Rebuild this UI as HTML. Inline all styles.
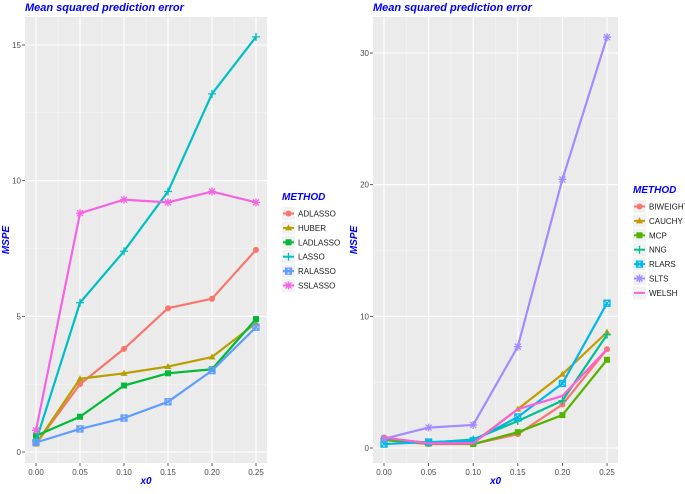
<!DOCTYPE html>
<html><head><meta charset="utf-8"><style>
body{margin:0;background:#fff;width:685px;height:489px;overflow:hidden}
svg{font-family:"Liberation Sans",sans-serif}
</style></head><body>
<svg id="s" width="685" height="489" xmlns="http://www.w3.org/2000/svg"></svg>
<script>
const xCats=[0,0.05,0.1,0.15,0.2,0.25];
const xTickLabels=["0.00","0.05","0.10","0.15","0.20","0.25"];
const leftNames=["ADLASSO","HUBER","LADLASSO","LASSO","RALASSO","SSLASSO"];
const leftAdlasso=[0.3,2.5,3.8,5.3,5.65,7.45];
const leftHuber=[0.3,2.7,2.9,3.15,3.5,4.75];
const leftLadlasso=[0.6,1.3,2.45,2.9,3.05,4.9];
const leftLasso=[0.4,5.5,7.4,9.6,13.2,15.3];
const leftRalasso=[0.35,0.85,1.25,1.85,3.0,4.6];
const leftSslasso=[0.8,8.8,9.3,9.2,9.6,9.2];
const leftYTicks=[0,5,10,15];
const rightNames=["BIWEIGHT","CAUCHY","MCP","NNG","RLARS","SLTS","WELSH"];
const rightBiweight=[0.8,0.3,0.3,1.05,3.3,7.5];
const rightCauchy=[0.6,0.3,0.4,2.95,5.6,8.8];
const rightMcp=[0.65,0.35,0.3,1.2,2.5,6.7];
const rightNng=[0.7,0.4,0.65,2.05,3.6,8.6];
const rightRlars=[0.3,0.45,0.55,2.35,4.9,11.0];
const rightSlts=[0.7,1.55,1.75,7.7,20.4,31.2];
const rightWelsh=[0.8,0.35,0.35,2.95,3.95,7.5];
const rightYTicks=[0,10,20,30];

const NS="http://www.w3.org/2000/svg";
const svg=document.getElementById('s');
function el(t,a,p){const e=document.createElementNS(NS,t);for(const k in a)e.setAttribute(k,a[k]);(p||svg).appendChild(e);return e;}

function marker(g,shape,x,y,c){
  let m=null;
  if(shape==='none'){return null;}
  if(shape==='circle'){m=el('circle',{cx:x,cy:y,r:3,fill:c},g);}
  else if(shape==='tri'){m=el('polygon',{points:`${x},${y-3.5} ${x-3.5},${y+2.5} ${x+3.5},${y+2.5}`,fill:c},g);}
  else if(shape==='square'){m=el('rect',{x:x-3,y:y-3,width:6,height:6,fill:c},g);}
  else if(shape==='plus'){m=el('path',{d:`M${x-4} ${y}H${x+4}M${x} ${y-4}V${y+4}`,stroke:c,'stroke-width':1.3,fill:'none'},g);}
  else if(shape==='sqx'){m=el('path',{d:`M${x-3} ${y-3}h6v6h-6zM${x-3} ${y-3}l6 6M${x+3} ${y-3}l-6 6`,stroke:c,'stroke-width':1.3,fill:'none'},g);}
  else {m=el('path',{d:`M${x-4} ${y}H${x+4}M${x} ${y-4}V${y+4}M${x-3} ${y-3}l6 6M${x+3} ${y-3}l-6 6`,stroke:c,'stroke-width':1.3,fill:'none'},g);}
  return m;
}

function panel(o){
  const {px0,px1,py0,py1,xa,xb,y0px,yScale,yTicks,yMinor,series,names,colors,shapes,legX,legY,id}=o;
  const sx=v=>xa+(xb-xa)*v/0.25;
  const sy=v=>y0px-v*yScale;
  const g=el('g',{});
  
  
  const bg=el('rect',{x:px0,y:py0,width:px1-px0,height:py1-py0,fill:'#ebebeb'},g);
  
  for(let i=0;i<xCats.length-1;i++){const xm=(sx(xCats[i])+sx(xCats[i+1]))/2;el('line',{x1:xm,x2:xm,y1:py0,y2:py1,stroke:'#f5f5f5','stroke-width':0.6},g);}
  yMinor.forEach(v=>{const y=sy(v);if(y>py0&&y<py1)el('line',{x1:px0,x2:px1,y1:y,y2:y,stroke:'#f5f5f5','stroke-width':0.6},g);});
  xCats.forEach((v,i)=>{const x=sx(v);el('line',{x1:x,x2:x,y1:py0,y2:py1,stroke:'#fff','stroke-width':1.1},g);
    el('line',{x1:x,x2:x,y1:py1,y2:py1+3,stroke:'#333','stroke-width':0.8},g);
    const t=el('text',{x:x,y:py1+12,'font-size':8,fill:'#4d4d4d','text-anchor':'middle'},g);t.textContent=xTickLabels[i];
    });
  yTicks.forEach(v=>{const y=sy(v);el('line',{x1:px0,x2:px1,y1:y,y2:y,stroke:'#fff','stroke-width':1.1},g);
    el('line',{x1:px0-3,x2:px0,y1:y,y2:y,stroke:'#333','stroke-width':0.8},g);
    const t=el('text',{x:px0-4,y:y+3,'font-size':8,fill:'#4d4d4d','text-anchor':'end'},g);t.textContent=v;
    });
  series.forEach((vals,si)=>{
    const c=colors[si];
    const sg=el('g',{},g);
    
    
    const pts=vals.map((v,i)=>sx(xCats[i])+','+sy(v)).join(' ');
    el('polyline',{points:pts,fill:'none',stroke:c,'stroke-width':2.2,'stroke-linejoin':'round'},sg);
    vals.forEach((v,i)=>{const m=marker(sg,shapes[si],sx(xCats[i]),sy(v),c);
      if(m){
      
      
      }});
  });
  const tt=el('text',{x:px0,y:11,'font-size':11,'font-weight':'bold','font-style':'italic',fill:'#0000ff'},g);
  tt.textContent='Mean squared prediction error';
  const xt=el('text',{x:(px0+px1)/2,y:484,'font-size':10,'font-weight':'bold','font-style':'italic',fill:'#0000ff','text-anchor':'middle'},g);
  xt.textContent='x0';
  const yt=el('text',{x:0,y:0,'font-size':10,'font-weight':'bold','font-style':'italic',fill:'#0000ff','text-anchor':'middle',transform:`translate(${px0-16},${(py0+py1)/2}) rotate(-90)`},g);
  yt.textContent='MSPE';
  const lg=el('g',{},g);
  
  const lt=el('text',{x:legX,y:legY,'font-size':10,'font-weight':'bold','font-style':'italic',fill:'#0000ff'},lg);lt.textContent='METHOD';
  names.forEach((n,i)=>{const y=legY+14+i*14.4;
    const e=el('g',{},lg);
    
    el('rect',{x:legX,y:y-7,width:13,height:13,fill:'#f2f2f2'},e);
    el('line',{x1:legX+1,x2:legX+12,y1:y-0.5,y2:y-0.5,stroke:colors[i],'stroke-width':2},e);
    marker(e,shapes[i],legX+6.5,y-0.5,colors[i]);
    const t=el('text',{x:legX+16,y:y+2.5,'font-size':8,fill:'#1a1a1a'},e);t.textContent=n;});
}

panel({id:'left',px0:25,px1:267,py0:17,py1:463,xa:36,xb:256,y0px:452,yScale:(452-45)/15,
  yTicks:leftYTicks,yMinor:[2.5,7.5,12.5],
  series:[leftAdlasso,leftHuber,leftLadlasso,leftLasso,leftRalasso,leftSslasso],names:leftNames,
  colors:['#F8766D','#B79F00','#00BA38','#00BFC4','#619CFF','#F564E3'],
  shapes:['circle','tri','square','plus','sqx','star'],legX:282,legY:200});
panel({id:'right',px0:373,px1:618,py0:17,py1:463,xa:384,xb:607,y0px:448,yScale:(448-53)/30,
  yTicks:rightYTicks,yMinor:[5,15,25],
  series:[rightBiweight,rightCauchy,rightMcp,rightNng,rightRlars,rightSlts,rightWelsh],names:rightNames,
  colors:['#F8766D','#C49A00','#53B400','#00C094','#00B6EB','#A58AFF','#FB61D7'],
  shapes:['circle','tri','square','plus','sqx','star','none'],legX:633,legY:193});
</script>
</body></html>
